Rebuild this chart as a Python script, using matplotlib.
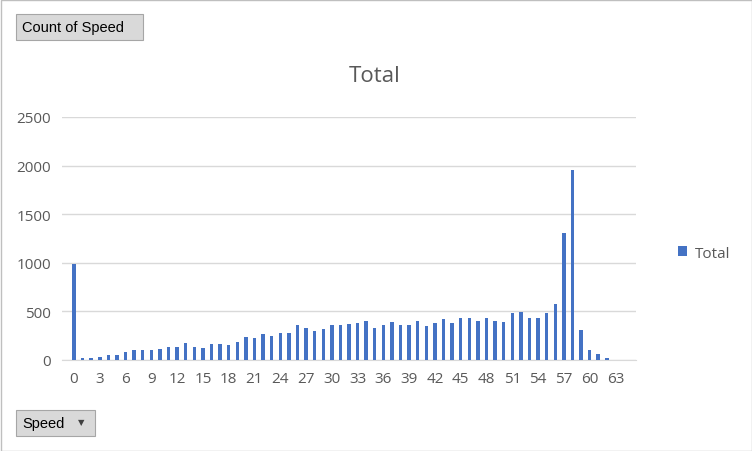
import matplotlib
matplotlib.use("Agg")
import matplotlib.pyplot as plt
from matplotlib.patches import Rectangle

speeds = list(range(64))
counts = [990, 20, 20, 35, 55, 55, 85, 100, 100, 100,
          110, 135, 135, 175, 135, 125, 165, 165, 155, 185,
          240, 230, 270, 250, 280, 280, 365, 325, 295, 315,
          355, 355, 375, 385, 405, 325, 355, 395, 355, 365,
          405, 345, 385, 425, 385, 435, 435, 405, 435, 405,
          395, 480, 490, 435, 435, 480, 575, 1310, 1950, 310,
          100, 65, 25, 0]
tick_labels = [str(s) if s % 3 == 0 else "" for s in speeds]

BLUE = "#4472C4"
GRID = "#D9D9D9"
TXT = "#595959"
plt.rcParams["font.family"] = ["Open Sans", "DejaVu Sans"]

W, H = 752, 452
fig = plt.figure(figsize=(W / 100, H / 100), dpi=100)
ax = fig.add_axes([62 / W, 1 - 361 / H, (636 - 62) / W, (361 - 118) / H])
ax.bar(speeds, counts, width=0.4, color=BLUE, label="Total", zorder=3)
ax.set_xlim(-1.4, 65.4)
ax.set_ylim(0, 2500)
ax.set_yticks(range(0, 2501, 500))
ax.set_xticks(speeds)
ax.set_xticklabels(tick_labels)
ax.tick_params(length=0, labelsize=11, colors=TXT, pad=8)
ax.grid(axis="y", color=GRID, linewidth=1, zorder=0)
for s in ax.spines.values():
    s.set_visible(False)
ax.spines["bottom"].set_visible(True)
ax.spines["bottom"].set_color(GRID)

fig.text(375 / W, 1 - 77 / H, "Total", fontsize=16, color=TXT, ha="center", va="center")
leg = fig.legend(loc="center left", bbox_to_anchor=(664 / W, 1 - 254 / H), frameon=False,
                 fontsize=11, handlelength=0.6, handleheight=0.6, handletextpad=0.5)
for t in leg.get_texts():
    t.set_color(TXT)

# border and pivot buttons
fig.add_artist(Rectangle((0.5 / W, 0.5 / H), 1 - 1 / W, 1 - 1 / H, transform=fig.transFigure,
                         fill=False, edgecolor="#BFBFBF", linewidth=1))
fig.add_artist(Rectangle((16 / W, 1 - 41 / H), 127 / W, 26 / H, transform=fig.transFigure,
                         facecolor="#D9D9D9", edgecolor="#A6A6A6", linewidth=0.8))
fig.text(22 / W, 1 - 28 / H, "Count of Speed", fontsize=10.5, color="black",
         ha="left", va="center", family=["Liberation Sans", "DejaVu Sans"])
fig.add_artist(Rectangle((16 / W, 1 - 437 / H), 79 / W, 26 / H, transform=fig.transFigure,
                         facecolor="#D9D9D9", edgecolor="#A6A6A6", linewidth=0.8))
fig.text(22 / W, 1 - 424 / H, "Speed", fontsize=10.5, color="black",
         ha="left", va="center", family=["Liberation Sans", "DejaVu Sans"])
fig.text(81 / W, 1 - 424 / H, "▼", fontsize=6, color="#404040", ha="center", va="center")

fig.savefig("out.png", dpi=100, facecolor="white")
